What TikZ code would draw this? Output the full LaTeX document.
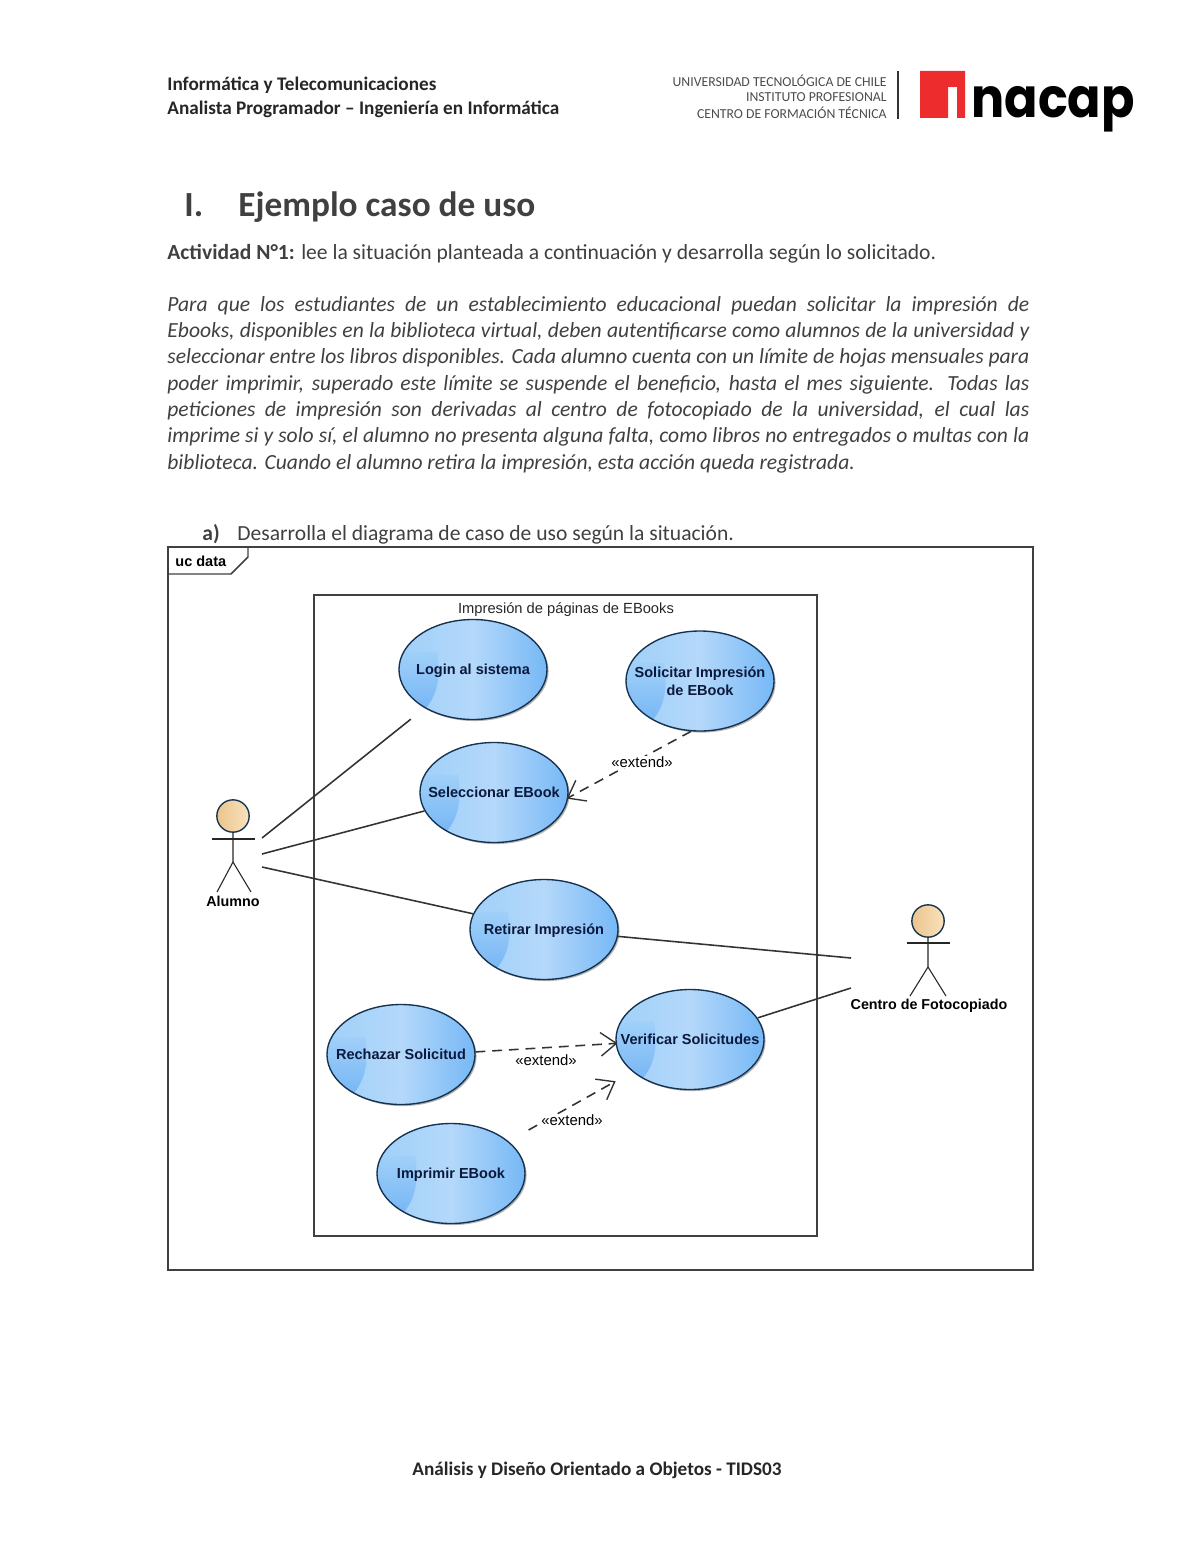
\documentclass[tikz,border=0pt]{standalone}
\usepackage{fontspec}
\usepackage{xcolor}
\setmainfont{Carlito}
\newfontfamily\umlfont{Liberation Sans}
\newfontfamily\logofont{Poppins}
\usepackage{tikz}
\usetikzlibrary{shapes.geometric,arrows.meta,positioning,shadows,calc}
\definecolor{pagetext}{RGB}{64,64,64}
\definecolor{ucblue}{RGB}{118,184,246}
\definecolor{ucside}{RGB}{160,208,249}
\definecolor{uclight}{RGB}{180,216,250}
\definecolor{ucdeep}{RGB}{112,178,244}
\definecolor{ucline}{RGB}{22,50,80}
\definecolor{ucink}{RGB}{10,25,60}
\definecolor{inacapred}{RGB}{237,45,45}
\definecolor{headdark}{RGB}{236,196,140}
\definecolor{headpale}{RGB}{248,226,190}

\begin{document}
\begin{tikzpicture}[
  x=0.51pt, y=-0.51pt,
  headtext/.style={anchor=west, font=\bfseries\fontsize{9.8}{13}\selectfont, text=black!85, inner sep=0},
  logotext/.style={anchor=east, font=\fontsize{7}{8}\selectfont, text=black!70, inner sep=0},
  bodytext/.style={anchor=west, font=\fontsize{11}{13.4}\selectfont, text=pagetext, inner sep=0},
  titletext/.style={anchor=base west, inner sep=0, font=\bfseries\fontsize{18}{20}\selectfont, text=pagetext},
  usecase/.style={ellipse, draw=ucline, line width=0.7pt, minimum width=75.5pt, minimum height=51pt,
                  inner xsep=-25pt, inner ysep=0pt, align=center, text=ucink, text depth=0pt,
                  font=\umlfont\bfseries\fontsize{7.4}{9.2}\selectfont, fill=uclight,
                  drop shadow={shadow xshift=0.8pt, shadow yshift=-0.8pt, opacity=0.3, fill=black},
                  path picture={
                    \shade[left color=ucside, right color=ucblue, middle color=uclight]
                      (path picture bounding box.south west) rectangle (path picture bounding box.north east);
                    \shade[top color=ucside, bottom color=ucdeep]
                      ($(path picture bounding box.center)+(-36,-18)$)
                      .. controls ($(path picture bounding box.center)+(-32,10)$)
                      and ($(path picture bounding box.center)+(-36,25)$)
                      .. ($(path picture bounding box.center)+(-48,40)$)
                      -- (path picture bounding box.south west)
                      -- ($(path picture bounding box.west)+(0,-18)$) -- cycle;}},
  actorhead/.style={circle, draw=ucline, line width=0.7pt, minimum size=16.5pt, inner sep=0,
                    left color=headdark, right color=headpale},
  actorline/.style={draw=black!85, line width=0.55pt},
  actorname/.style={font=\umlfont\bfseries\fontsize{7.3}{9}\selectfont, inner sep=0},
  frameline/.style={draw=black!75, line width=0.75pt},
  assoc/.style={draw=black!80, line width=0.8pt},
  extendline/.style={draw=black!80, line width=0.8pt, dash pattern=on 5pt off 3.5pt, shorten >=-1pt,
                     -{Straight Barb[length=8pt,width=12pt,line width=0.7pt]}},
  extendname/.style={font=\umlfont\fontsize{7.6}{8}\selectfont, inner sep=0.5pt, fill=white}
]
  \useasboundingbox (0,0) rectangle (1200,1553);

  % page head
  \node[headtext] (carrera) at (167,85) {Informática y Telecomunicaciones};
  \node[headtext] (analista) at (167,109) {Analista Programador – Ingeniería en Informática};
  \node[logotext] (utch) at (887,81) {UNIVERSIDAD TECNOLÓGICA DE CHILE};
  \node[logotext] (ip) at (887,97) {INSTITUTO PROFESIONAL};
  \node[logotext] (cft) at (887,113) {CENTRO DE FORMACIÓN TÉCNICA};
  \coordinate (barTop) at (898,71);
  \coordinate (barEnd) at (898,119);
  \draw[black!80, line width=0.6pt] (barTop) -- (barEnd);
  \fill[inacapred] (920,71) -- (965,71) -- (965,118) -- (957,118) -- (957,87) -- (948,87) -- (948,118) -- (920,118) -- cycle;
  \node[anchor=base west, inner sep=0, font=\logofont\bfseries\fontsize{28}{30}\selectfont] (nacap) at (971,118) {\scalebox{0.897}[1]{nacap}};

  % statement
  \node[titletext] (secnum) at (184,216) {I.};
  \node[titletext] (sectitle) at (238,216) {Ejemplo caso de uso};
  \node[bodytext] (actividad) at (167,254) {\textbf{Actividad N°1:} lee la situación planteada a continuación y desarrolla según lo solicitado.};
  \node[bodytext, anchor=north west, text width=439.6pt, align=justify] (situacion) at (167,296) {\itshape
    Para que los estudiantes de un establecimiento educacional puedan solicitar la impresión de\linebreak
    Ebooks, disponibles en la biblioteca virtual, deben autentificarse como alumnos de la universidad y\linebreak
    seleccionar entre los libros disponibles. Cada alumno cuenta con un límite de hojas mensuales para\linebreak
    poder imprimir, superado este límite se suspende el beneficio, hasta el mes siguiente. Todas las\linebreak
    peticiones de impresión son derivadas al centro de fotocopiado de la universidad, el cual las\linebreak
    imprime si y solo sí, el alumno no presenta alguna falta, como libros no entregados o multas con la\linebreak
    biblioteca. Cuando el alumno retira la impresión, esta acción queda registrada.};
  \node[bodytext] (itema) at (202,534) {\textbf{a)}\hspace{9pt}Desarrolla el diagrama de caso de uso según la situación.};

  % frames
  \draw[frameline] (168,547) rectangle (1033,1270);
  \draw[frameline] (248,547) -- (248,557) -- (231,574) -- (168,574);
  \node[anchor=west, inner sep=0, font=\umlfont\bfseries\fontsize{7.4}{9}\selectfont] (frametag) at (175,561) {uc data};
  \draw[frameline] (314,595) rectangle (817,1236);
  \node[font=\umlfont\fontsize{7.5}{9}\selectfont, inner sep=0, text=black!85] (sistema) at (566,610) {Impresión de páginas de EBooks};

  % use cases
  \node[usecase] (login) at (473,669.5) {Login al sistema};
  \node[usecase] (solicitar) at (700,681) {Solicitar Impresión\\de EBook};
  \node[usecase] (seleccionar) at (494,792.5) {Seleccionar EBook};
  \node[usecase] (retirar) at (544,929.5) {Retirar Impresión};
  \node[usecase] (rechazar) at (401,1054.5) {Rechazar Solicitud};
  \node[usecase] (verificar) at (690,1039.5) {Verificar Solicitudes};
  \node[usecase] (imprimir) at (451,1173.5) {Imprimir EBook};

  % actors
  \node[actorhead] (alumnoHead) at (233,816) {};
  \draw[actorline] (alumnoHead.south) -- (233,862) -- (217,892);
  \draw[actorline] (233,862) -- (251,892);
  \draw[actorline] (212,839) -- (255,839);
  \node[actorname] (alumno) at (233,901) {Alumno};
  \coordinate (alumnoA) at (262,838);
  \coordinate (alumnoB) at (262,854);
  \coordinate (alumnoC) at (262,867);

  \node[actorhead] (centroHead) at (928,921) {};
  \draw[actorline] (centroHead.south) -- (928,967) -- (910,996);
  \draw[actorline] (928,967) -- (946,996);
  \draw[actorline] (907,943) -- (950,943);
  \node[actorname] (centro) at (929,1006) {Centro de Fotocopiado};
  \coordinate (centroA) at (851,958);
  \coordinate (centroB) at (851,988);

  % connectors
  \draw[assoc, shorten >=9pt] (alumnoA) -- (login);
  \draw[assoc] (alumnoB) -- (seleccionar);
  \draw[assoc] (alumnoC) -- (retirar);
  \draw[assoc] (centroA) -- (retirar);
  \draw[assoc] (centroB) -- (verificar);
  \draw[extendline] (solicitar.-100) -- (seleccionar.-4);
  \draw[extendline] (rechazar.2) -- (verificar.-177);
  \draw[extendline, shorten <=11.7pt, shorten >=9.8pt] (imprimir) -- (verificar);

  \node[extendname] (extendA) at (642,762) {«extend»};
  \node[extendname] (extendB) at (546,1060) {«extend»};
  \node[extendname] (extendC) at (572,1120) {«extend»};

  % page foot
  \node[headtext, anchor=center] (pie) at (597,1470) {Análisis y Diseño Orientado a Objetos - TIDS03};
\end{tikzpicture}
\end{document}
